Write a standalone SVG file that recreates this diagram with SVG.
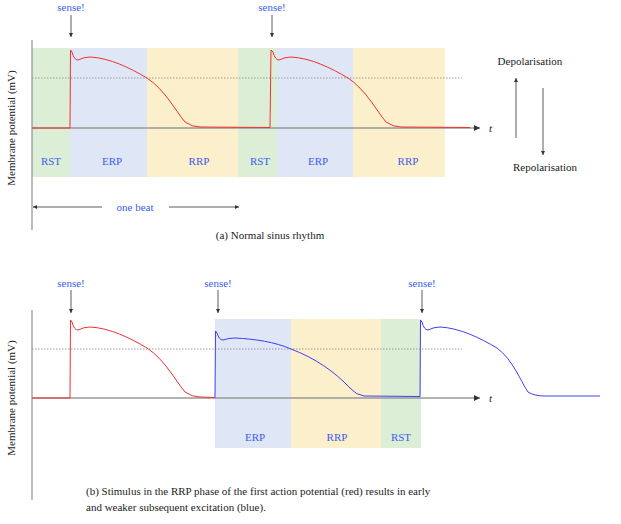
<svg xmlns="http://www.w3.org/2000/svg" width="621" height="524" viewBox="0 0 621 524">
<style>
text{font-family:"Liberation Serif","DejaVu Serif",serif;font-size:11px;fill:#222}
.b{fill:#3a5cf0}
.ax{stroke:#999;stroke-width:1.3;fill:none}
.dot{stroke:#888;stroke-dasharray:1.5,1.5;stroke-width:0.8}
.g{fill:#dcefd6}.e{fill:#dfe6f5}.r{fill:#fcefcc}
.arr{stroke:#333;stroke-width:0.8;fill:none;marker-end:url(#ah)}
.red{stroke:#f03030;fill:none;stroke-width:1}
.blu{stroke:#4040f0;fill:none;stroke-width:1}
</style>
<defs><marker id="ah" markerWidth="6" markerHeight="6" refX="5" refY="3" orient="auto"><path d="M0,0.5 L5,3 L0,5.5 Z" fill="#333"/></marker></defs>
<rect width="621" height="524" fill="#fff"/>
<g id="top-bands">
<rect class="g" x="32" y="48" width="38" height="129"/>
<rect class="e" x="70" y="48" width="77" height="129"/>
<rect class="r" x="147" y="48" width="91" height="129"/>
<rect class="g" x="238" y="48" width="39" height="129"/>
<rect class="e" x="277" y="48" width="76" height="129"/>
<rect class="r" x="353" y="48" width="92" height="129"/>
<text class="b" x="51" y="165" text-anchor="middle">RST</text>
<text class="b" x="112" y="165" text-anchor="middle">ERP</text>
<text class="b" x="199" y="165" text-anchor="middle">RRP</text>
<text class="b" x="260" y="165" text-anchor="middle">RST</text>
<text class="b" x="318" y="165" text-anchor="middle">ERP</text>
<text class="b" x="408" y="165" text-anchor="middle">RRP</text>
</g>
<g id="bottom-bands">
<rect class="e" x="215" y="319" width="76" height="129"/>
<rect class="r" x="291" y="319" width="90" height="129"/>
<rect class="g" x="381" y="319" width="40" height="129"/>
<text class="b" x="255" y="441" text-anchor="middle">ERP</text>
<text class="b" x="337" y="441" text-anchor="middle">RRP</text>
<text class="b" x="401" y="441" text-anchor="middle">RST</text>
</g>
<g id="connectors">
<line class="ax" x1="32" y1="40" x2="32" y2="230"/>
<line class="ax" x1="32" y1="128" x2="480" y2="128" marker-end="url(#ah)"/>
<line class="dot" x1="32" y1="78" x2="462" y2="78"/>
<line class="ax" x1="32" y1="310" x2="32" y2="500"/>
<line class="ax" x1="32" y1="398" x2="480" y2="398" marker-end="url(#ah)"/>
<line class="dot" x1="32" y1="349" x2="462" y2="349"/>
<line class="arr" x1="71" y1="15" x2="71" y2="37"/>
<line class="arr" x1="272" y1="15" x2="272" y2="37"/>
<line class="arr" x1="71" y1="290" x2="71" y2="313"/>
<line class="arr" x1="218" y1="290" x2="218" y2="313"/>
<line class="arr" x1="422" y1="290" x2="422" y2="313"/>
<line class="arr" x1="102" y1="207" x2="33" y2="207"/>
<line class="arr" x1="169" y1="207" x2="239" y2="207"/>
<line class="arr" x1="516" y1="138" x2="516" y2="78"/>
<line class="arr" x1="543" y1="88" x2="543" y2="155"/>
</g>
<g id="curves">
<path class="red" d="M32,128 L70,128 L70.5,50 L72,52 Q74,60 78,60 Q84,57 90,57 C110,58 130,68 147,78 C165,90 175,110 185,122 Q192,127 200,127 L270,127.5 L271,50 L273,52 Q275,60 279,60 Q285,57 291,57 C311,58 331,68 348,78 C366,90 376,110 386,122 Q393,127 401,127 L470,127.5"/>
<path class="red" d="M32,398 L70,398 L70.5,320 L72,322 Q74,330 78,330 Q84,327 90,327 C110,328 130,338 147,348 C165,360 175,380 185,392 Q192,397 200,397 L215,397.5"/>
<path class="blu" d="M215,397.5 L215.5,331 L217,333 Q219,340 223,340 Q229,338 235,338 C255,339 275,342 291,349 C315,358 335,372 350,388 Q356,395 364,396 L420,396.5 L420.5,320 L422,322 Q424,330 428,330 Q434,327 440,327 C460,328 480,338 497,348 C513,360 520,380 528,392 Q534,396 545,396 L600,396"/>
</g>
<g id="labels">
<text class="b" x="71" y="11" text-anchor="middle">sense!</text>
<text class="b" x="272" y="11" text-anchor="middle">sense!</text>
<text class="b" x="71" y="287" text-anchor="middle">sense!</text>
<text class="b" x="218" y="287" text-anchor="middle">sense!</text>
<text class="b" x="422" y="287" text-anchor="middle">sense!</text>
<text class="b" x="135" y="211" text-anchor="middle">one beat</text>
<text x="489" y="132" font-style="italic">t</text>
<text x="489" y="402" font-style="italic">t</text>
<text x="530" y="65" text-anchor="middle">Depolarisation</text>
<text x="545" y="171" text-anchor="middle">Repolarisation</text>
<text x="270" y="239" text-anchor="middle">(a) Normal sinus rhythm</text>
<text x="86" y="495">(b) Stimulus in the RRP phase of the first action potential (red) results in early</text>
<text x="86" y="511">and weaker subsequent excitation (blue).</text>
<text transform="translate(15,128) rotate(-90)" text-anchor="middle">Membrane potential (mV)</text>
<text transform="translate(15,398) rotate(-90)" text-anchor="middle">Membrane potential (mV)</text>
</g>
</svg>
